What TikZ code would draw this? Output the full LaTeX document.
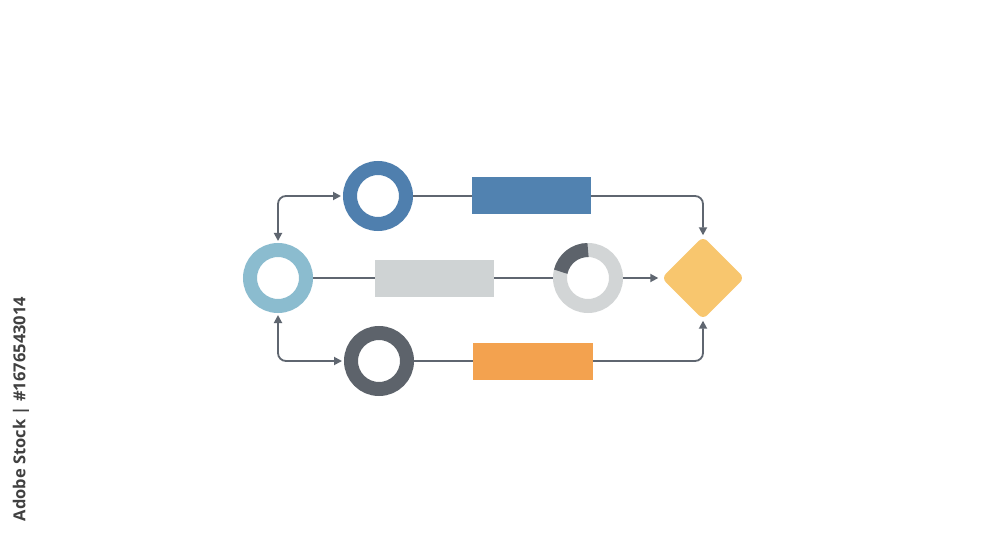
\documentclass[tikz,border=0pt]{standalone}
\usepackage{fontspec}
\newfontfamily\stockfont{Open Sans}
\usetikzlibrary{arrows.meta,shapes.geometric}
\definecolor{ringblue}{HTML}{4F7FAE}
\definecolor{ringlight}{HTML}{8BBCCF}
\definecolor{ringdark}{HTML}{5D636B}
\definecolor{boxblue}{HTML}{5182B0}
\definecolor{boxgray}{HTML}{CFD3D4}
\definecolor{boxorange}{HTML}{F3A24F}
\definecolor{diayellow}{HTML}{F8C66E}
\definecolor{donutlight}{HTML}{D2D5D6}
\definecolor{linegray}{HTML}{5F6670}
\tikzset{
  ring/.style={circle,draw=#1,line width=14pt,minimum size=56pt,inner sep=0pt},
  bar/.style={rectangle,fill=#1,minimum width=119pt,minimum height=37pt,inner sep=0pt,outer sep=0pt},
  conn/.style={draw=linegray,line width=1.8pt,rounded corners=8pt},
  tip/.style={-{Triangle[length=8pt,width=8pt]}},
  tips/.style={{Triangle[length=8pt,width=8pt]}-{Triangle[length=8pt,width=8pt]}},
}
\begin{document}
\begin{tikzpicture}[x=1pt,y=-1pt]
\useasboundingbox[fill=white] (0,0) rectangle (1000,545);
% nodes
\node[ring=ringblue] (top) at (378,196) {};
\node[ring=ringlight] (left) at (278,278) {};
\node[ring=ringdark] (bot) at (379,361) {};
\node[ring=donutlight] (donut) at (588,278) {};
\draw[ringdark,line width=14pt] (588,250) arc[start angle=270,end angle=193,radius=28];
\node[bar=boxblue] (rblue) at (531.5,196) {};
\node[bar=boxgray] (rgray) at (434.5,278) {};
\node[bar=boxorange,minimum width=120pt] (rorange) at (533,361) {};
\node[diamond,fill=diayellow,minimum width=83pt,minimum height=83pt,inner sep=0pt,rounded corners=6pt] (dia) at (703,278) {};
% connectors
\draw[conn,tips,shorten <=2pt,shorten >=2pt] (left.north) |- (top.west);
\draw[conn,tips,shorten <=2pt,shorten >=2pt] (left.south) |- (bot.west);
\draw[conn] (top.east) -- (rblue.west);
\draw[conn] (left.east) -- (rgray.west);
\draw[conn] (rgray.east) -- (donut.west);
\draw[conn] (bot.east) -- (rorange.west);
\draw[conn,tip,shorten >=1pt] (rblue.east) -| (dia.north);
\draw[conn,tip,shorten >=3pt] (donut.east) -- (dia.west);
\draw[conn,tip,shorten >=1pt] (rorange.east) -| (dia.south);
% side label
\node[rotate=90,text=black!75,font=\stockfont\fontsize{16.5}{19}\selectfont\bfseries] (stock) at (21,409) {Adobe Stock | \#1676543014};
\end{tikzpicture}
\end{document}
